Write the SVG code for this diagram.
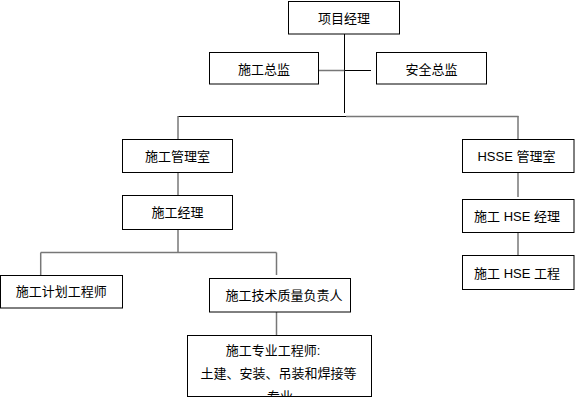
<svg xmlns="http://www.w3.org/2000/svg" width="575" height="401" viewBox="0 0 575 401">
<defs>
<style>
.box{fill:#fff;stroke:#000;stroke-width:1}
.t{font-family:"Liberation Sans","Noto Sans CJK SC",sans-serif;font-size:13px;fill:#000;text-anchor:middle}
.k{stroke:#000;stroke-width:1;fill:none}
.g{stroke:#777;stroke-width:1.5;fill:none}
</style>
<clipPath id="clipBottom"><rect x="188" y="336" width="183" height="60"/></clipPath>
</defs>
<rect width="575" height="401" fill="#fff"/>
<g id="connectors">
<line class="k" x1="344.5" y1="34" x2="344.5" y2="113"/>
<line class="g" x1="319" y1="70.5" x2="344.5" y2="70.5"/>
<line class="k" x1="344.5" y1="70.5" x2="371" y2="70.5"/>
<line class="k" x1="178" y1="116.5" x2="346" y2="116.5"/>
<line class="g" x1="346" y1="116.5" x2="518.5" y2="116.5"/>
<line class="g" x1="178" y1="116" x2="178" y2="139"/>
<line class="g" x1="178" y1="173" x2="178" y2="195"/>
<line class="g" x1="178" y1="230" x2="178" y2="252.5"/>
<line class="g" x1="518" y1="116" x2="518" y2="139"/>
<line class="g" x1="518" y1="173" x2="518" y2="197"/>
<line class="g" x1="518" y1="233" x2="518" y2="255"/>
<line class="g" x1="40.7" y1="252.5" x2="276.5" y2="252.5"/>
<line class="g" x1="40.7" y1="252.5" x2="40.7" y2="275"/>
<line class="g" x1="276.5" y1="252.5" x2="276.5" y2="275"/>
<line class="g" x1="276.5" y1="312" x2="276.5" y2="335"/>
</g>
<g id="n-pm"><rect class="box" x="288.5" y="1.5" width="111" height="32.5"/><text class="t" x="344" y="22.5">项目经理</text></g>
<g id="n-cgm"><rect class="box" x="209.5" y="52.5" width="109" height="31.5"/><text class="t" x="264" y="73.5">施工总监</text></g>
<g id="n-safety"><rect class="box" x="376.5" y="52.5" width="110" height="31.5"/><text class="t" x="431.5" y="73.5">安全总监</text></g>
<g id="n-cmo"><rect class="box" x="122.5" y="139.5" width="110" height="33"/><text class="t" x="177.5" y="161">施工管理室</text></g>
<g id="n-hsse"><rect class="box" x="462.5" y="139.5" width="111.5" height="33"/><text class="t" x="516.5" y="161">HSSE 管理室</text></g>
<g id="n-cm"><rect class="box" x="122.5" y="195.5" width="110" height="34"/><text class="t" x="177.5" y="216.5">施工经理</text></g>
<g id="n-hsem"><rect class="box" x="462.5" y="199.5" width="111.5" height="33"/><text class="t" x="517" y="221">施工 HSE 经理</text></g>
<g id="n-hsee"><rect class="box" x="462.5" y="255.5" width="111.5" height="34"/><text class="t" x="517" y="277.5">施工 HSE 工程</text></g>
<g id="n-plan"><rect class="box" x="0.5" y="275.5" width="122" height="32.5"/><text class="t" x="61.3" y="296">施工计划工程师</text></g>
<g id="n-tq"><rect class="box" x="209.5" y="278.5" width="141" height="33.5"/><text class="t" x="284" y="300">施工技术质量负责人</text></g>
<g id="n-eng"><rect class="box" x="187.5" y="335.5" width="184" height="61"/>
<g clip-path="url(#clipBottom)">
<text class="t" x="273" y="355">施工专业工程师:</text>
<text class="t" x="278.5" y="378">土建、安装、吊装和焊接等</text>
<text class="t" x="280" y="401">专业</text>
</g></g>
</svg>
